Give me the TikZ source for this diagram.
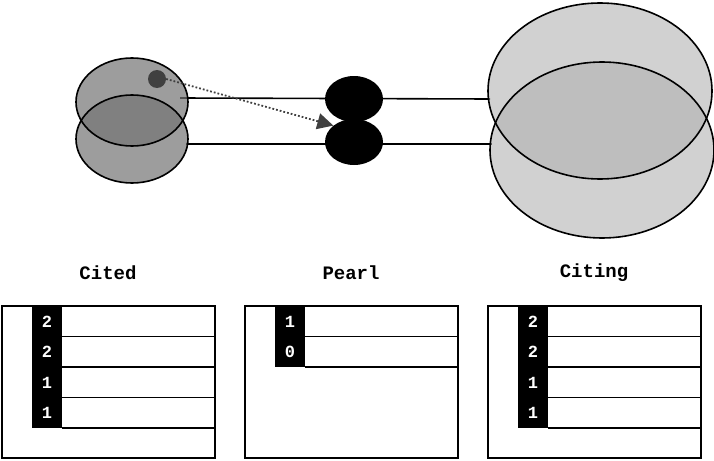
\documentclass[tikz,border=0pt]{standalone}
\usepackage{fontspec}
\setmonofont{Liberation Mono}
\usetikzlibrary{arrows.meta,shapes.geometric}
\begin{document}
\begin{tikzpicture}[x=1pt,y=-1pt,
  lnk/.style={line width=1.6pt},
  box/.style={draw=black,line width=1.2pt},
  num/.style={text=white,font=\ttfamily\bfseries\fontsize{17}{17}\selectfont,inner sep=0pt},
  ttl/.style={font=\ttfamily\bfseries\fontsize{19}{19}\selectfont,inner sep=0pt}]
\useasboundingbox (0,0) rectangle (714,460);
% connectors
\coordinate (L1) at (180,98); \coordinate (R1) at (490,99);
\coordinate (L2) at (186,144); \coordinate (R2) at (492,144);
\draw[lnk] (L1) -- (R1);
\draw[lnk] (L2) -- (R2);
% left ellipses
\fill[gray!90!black,fill opacity=0.7] (132,139) ellipse [x radius=56,y radius=44];
\fill[gray!90!black,fill opacity=0.7] (132,102) ellipse [x radius=56,y radius=44];
\draw[line width=1.6pt] (132,139) ellipse [x radius=56,y radius=44];
\draw[line width=1.6pt] (132,102) ellipse [x radius=56,y radius=44];
\node[circle,fill=black!75,minimum size=18pt,inner sep=0pt] (dot) at (157,79) {};
% pearl
\node[ellipse,fill=black,minimum width=58pt,minimum height=46pt,inner sep=0pt] (p1) at (354,99) {};
\node[ellipse,fill=black,minimum width=58pt,minimum height=46pt,inner sep=0pt] (p2) at (354,142) {};
\draw[dotted,line width=1.8pt,black!75,-{Triangle[length=16pt,width=16pt]}] (dot.east) -- (p2.north west);
% right ellipses
\fill[gray!60,fill opacity=0.6] (602,150) ellipse [x radius=112,y radius=88];
\fill[gray!60,fill opacity=0.6] (600,91) ellipse [x radius=112,y radius=88];
\draw[line width=1.6pt] (602,150) ellipse [x radius=112,y radius=88];
\draw[line width=1.6pt] (600,91) ellipse [x radius=112,y radius=88];
% titles
\node[ttl] (t1) at (108,273) {Cited};
\node[ttl] (t2) at (351,273) {Pearl};
\node[ttl] (t3) at (594,273) {Citing};
% boxes
\foreach \bx/\lst/\n in {2/{2,2,1,1}/4, 488/{2,2,1,1}/4, 245/{1,0}/2}{
  \draw[box] (\bx,306) rectangle ++(213,152);
  \fill[black] (\bx+30,306) rectangle ++(30,{30.5*\n});
  \foreach \v [count=\i] in \lst {
    \draw[box] (\bx+60,{306+30.5*\i}) -- (\bx+213,{306+30.5*\i});
    \node[num] at (\bx+45,{306+30.5*\i-15}) {\v};
  }
}
\end{tikzpicture}
\end{document}
